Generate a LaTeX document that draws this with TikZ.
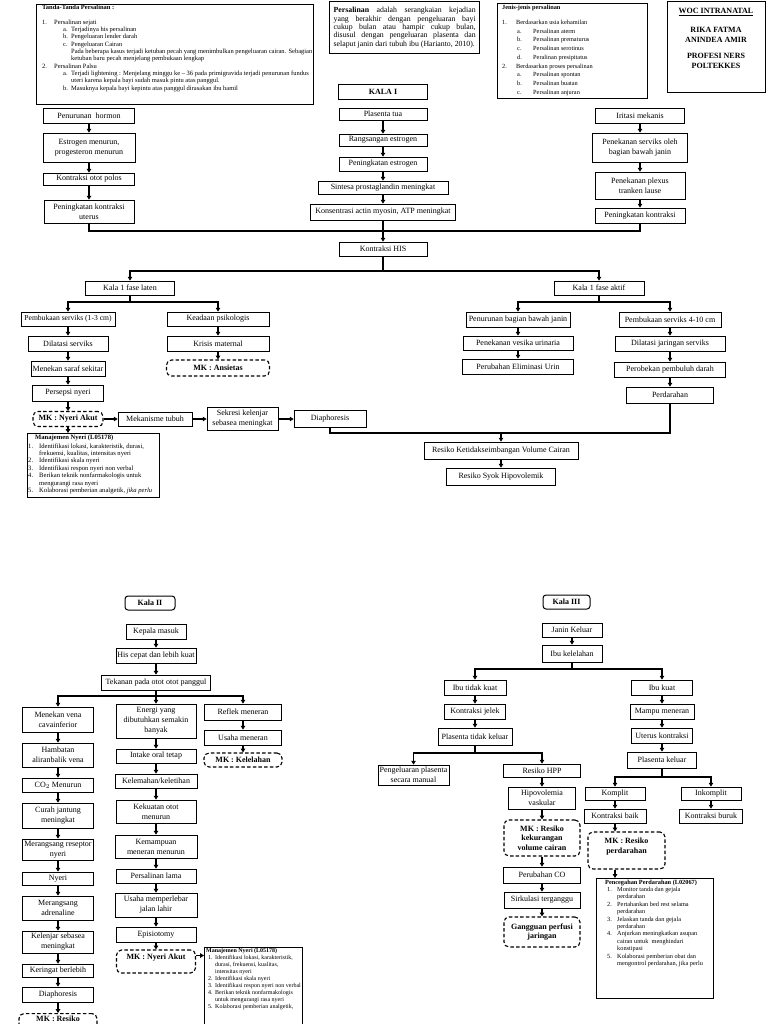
\documentclass[tikz,border=0pt]{standalone}
\usepackage{fontspec}
\setmainfont{Liberation Serif}
\usetikzlibrary{arrows.meta}

\newcommand{\itm}[3]{\hspace*{#1}\makebox[#2][l]{#3}}

\begin{document}
\begin{tikzpicture}[x=1pt, y=-1pt, >={Triangle[length=3.8pt,width=4.4pt]},
  sz/.style 2 args={minimum width=#1, minimum height=#2},
  box/.style={draw, line width=0.7pt, align=center, inner sep=0.3pt, font=\fontsize{8}{10}\selectfont},
  bbox/.style={box, font=\fontsize{8}{9.6}\selectfont\bfseries},
  kala/.style={bbox, rounded corners=3pt, line width=1pt},
  mk/.style={bbox, line width=1.1pt, dash pattern=on 3.5pt off 2.2pt, rounded corners=5pt},
  frame/.style={draw, line width=0.8pt, anchor=north west, inner sep=0pt},
  note/.style={anchor=north west, align=left, inner sep=0pt},
  arr/.style={->, line width=1.1pt},
  ln/.style={line width=1.1pt}]
\useasboundingbox (0,0) rectangle (768,1024);

% header boxes
\node[frame, sz={277}{100}] (tanda) at (36,4) {};
\node[note, font=\fontsize{6.5}{7.3}\selectfont] (tandatx) at (42,5) {\textbf{Tanda-Tanda Persalinan :}\\[7.3pt]
\itm{0pt}{12pt}{1.}Persalinan sejati\\
\itm{21pt}{8pt}{a.}Terjadinya his persalinan\\
\itm{21pt}{8pt}{b.}Pengeluaran lender darah\\
\itm{21pt}{8pt}{c.}Pengeluaran Cairan\\
\hspace*{29pt}Pada beberapa kasus terjadi ketuban pecah yang menimbulkan pengeluaran cairan. Sebagian\\
\hspace*{29pt}ketuban baru pecah menjelang pembukaan lengkap\\
\itm{0pt}{12pt}{2.}Persalinan Palsu\\
\itm{21pt}{8pt}{a.}Terjadi lightening : Menjelang minggu ke -- 36 pada primigravida terjadi penurunan fundus\\
\hspace*{29pt}uteri karena kepala bayi sudah masuk pintu atas panggul.\\
\itm{21pt}{8pt}{b.}Masuknya kepala bayi kepintu atas panggul dirasakan ibu hamil};
\node[draw, line width=1.3pt, anchor=north west, text width=142pt, sz={150}{52}, inner xsep=4pt, inner ysep=2pt, align=justify, font=\fontsize{7.8}{8.3}\selectfont] (psl) at (329,1)
  {\textbf{Persalinan} adalah serangkaian kejadian\linebreak yang berakhir dengan pengeluaran bayi\linebreak cukup bulan atau hampir cukup bulan,\linebreak disusul dengan pengeluaran plasenta dan\linebreak selaput janin dari tubuh ibu (Harianto, 2010).};
\node[frame, sz={150}{95}] (jenis) at (497,3) {};
\node[note, font=\fontsize{6.3}{8.75}\selectfont] (jenistx) at (502,5) {\textbf{Jenis-jenis persalinan}\\[6pt]
\itm{0pt}{14pt}{1.}Berdasarkan usia kehamilan\\
\itm{15pt}{16pt}{a.}Persalinan aterm\\
\itm{15pt}{16pt}{b.}Persalinan prematurus\\
\itm{15pt}{16pt}{c.}Persalinan serotinus\\
\itm{15pt}{16pt}{d.}Peralinan presipitatus\\
\itm{0pt}{14pt}{2.}Berdasarkan proses persalinan\\
\itm{15pt}{16pt}{a.}Persalinan spontan\\
\itm{15pt}{16pt}{b.}Persalinan buatan\\
\itm{15pt}{16pt}{c.}Persalinan anjuran};
\node[frame, line width=1pt, sz={98}{91}] (woc) at (667,1) {};
\node[anchor=north, align=center, inner sep=0pt, font=\fontsize{8}{10}\selectfont\bfseries] (woctx) at (716,8)
  {\underline{WOC INTRANATAL}\\[9pt]RIKA FATMA\\ANINDEA AMIR\\[6pt]PROFESI NERS\\POLTEKKES};

% Kala I
\node[bbox, sz={89}{15}] (kala1) at (383,91.5) {KALA I};
\node[box, sz={88}{12}] (plt) at (383,114) {Plasenta tua};
\node[box, sz={88}{12}] (rgs) at (383,140) {Rangsangan estrogen};
\node[box, sz={88}{14}] (pes) at (383,164) {Peningkatan estrogen};
\node[box, sz={130}{13}] (spm) at (383,187.5) {Sintesa prostaglandin meningkat};
\node[box, sz={145}{16}] (kam) at (383,212) {Konsentrasi actin myosin, ATP meningkat};
\node[box, sz={88}{14}] (khis) at (383,249) {Kontraksi HIS};
\node[box, sz={91}{15}] (phm) at (89,115.5) {Penurunan\ \ hormon};
\node[box, sz={92}{29}] (emp) at (89,147.5) {Estrogen menurun,\\progesteron menurun};
\node[box, sz={91}{12}] (kop) at (89,179) {Kontraksi otot polos};
\node[box, sz={90}{23}] (pku) at (89,211.5) {Peningkatan kontraksi\\uterus};
\node[box, sz={89}{15}] (imk) at (640,115.5) {Iritasi mekanis};
\node[box, sz={95}{29}] (psb) at (640,147.5) {Penekanan serviks oleh\\bagian bawah janin};
\node[box, sz={90}{27}] (ppt) at (640,185.5) {Penekanan plexus\\tranken lause};
\node[box, sz={90}{15}] (pkr) at (640,215.5) {Peningkatan kontraksi};
\coordinate (j1) at (383,231);
\draw[ln] (pku.south) |- (j1) -| (pkr.south);
\draw[arr] (kam) -- (khis);

\node[box, sz={89}{14}] (fl) at (130,288) {Kala 1 fase laten};
\node[box, sz={90}{14}] (fa) at (599,288) {Kala 1 fase aktif};
\coordinate (j2) at (383,271);
\draw[ln] (khis) -- (j2);
\draw[arr] (j2) -| (fl);
\draw[arr] (j2) -| (fa);

% fase laten
\node[box, sz={94}{14}, font=\fontsize{7.6}{9}\selectfont] (pb13) at (68,319) {Pembukaan serviks (1-3 cm)};
\node[box, sz={102}{14}] (kps) at (218,319) {Keadaan psikologis};
\coordinate (j3) at (130,302);
\draw[ln] (fl) -- (j3);
\draw[arr] (j3) -| (pb13);
\draw[arr] (j3) -| (kps);
\node[box, sz={80}{15}] (dls) at (68,343.5) {Dilatasi serviks};
\node[box, sz={74}{15}] (mss) at (68,368.5) {Menekan saraf sekitar};
\node[box, sz={71}{16}] (psn) at (68,393) {Persepsi nyeri};
\node[mk, sz={70}{15}] (mkn1) at (68,419) {MK : Nyeri Akut};
\node[box, sz={102}{15}] (krm) at (218,343.5) {Krisis maternal};
\node[mk, sz={103}{16}] (mka) at (218,368) {MK : Ansietas};
\node[box, sz={74}{14}] (mkt) at (155,419) {Mekanisme tubuh};
\node[box, sz={71}{23}] (skm) at (242.5,419) {Sekresi kelenjar\\sebasea meningkat};
\node[box, sz={72}{17}] (dph1) at (330,419) {Diaphoresis};
\node[frame, sz={132}{64}] (mn1) at (27,433) {};
\node[note, font=\fontsize{6.6}{7.4}\selectfont] (mn1tx) at (28,434.5) {\hspace*{7pt}\textbf{Manajemen Nyeri (L05178)}\\[1.5pt]
\itm{0pt}{11pt}{1.}Identifikasi lokasi, karakteristik, durasi,\\
\hspace*{11pt}frekuensi, kualitas, intensitas nyeri\\
\itm{0pt}{11pt}{2.}Identifikasi skala nyeri\\
\itm{0pt}{11pt}{3.}Identifikasi respon nyeri non verbal\\
\itm{0pt}{11pt}{4.}Berikan teknik nonfarmakologis untuk\\
\hspace*{11pt}mengurangi rasa nyeri\\
\itm{0pt}{11pt}{5.}Kolaborasi pemberian analgetik, \textit{jika perlu}};
\draw[arr] (mkn1) -- (mkn1 |- mn1.north);

% fase aktif
\coordinate (j4) at (599,302);
\draw[ln] (fa) -- (j4);
\node[box, sz={104}{15}] (pbj) at (518,319.5) {Penurunan bagian bawah janin};
\node[box, sz={102}{15}] (pb410) at (670,319.5) {Pembukaan serviks 4-10 cm};
\draw[arr] (j4) -| (pbj);
\draw[arr] (j4) -| (pb410);
\node[box, sz={110}{14}] (pvu) at (518,343) {Penekanan vesika urinaria};
\node[box, sz={111}{15}] (peu) at (518,366.5) {Perubahan Eliminasi Urin};
\node[box, sz={110}{15}] (djs) at (670,343.5) {Dilatasi jaringan serviks};
\node[box, sz={111}{15}] (ppd) at (670,369.5) {Perobekan pembuluh darah};
\node[box, sz={87}{16}] (prd) at (670,395) {Perdarahan};
\node[box, sz={154}{17}] (rkv) at (501,450.5) {Resiko Ketidakseimbangan Volume Cairan};
\node[box, sz={109}{17}] (rsh) at (501,476.5) {Resiko Syok Hipovolemik};
\coordinate (j5) at (501,433);
\draw[ln] (dph1) |- (j5) -| (prd);
\draw[arr] (j5) -- (rkv);
\draw[arr] (rkv) -- (rsh);
\foreach \a/\b in {plt/rgs, rgs/pes, pes/spm, spm/kam, phm/emp, emp/kop, kop/pku, imk/psb, psb/ppt, ppt/pkr,
  pb13/dls, dls/mss, mss/psn, psn/mkn1, kps/krm, krm/mka, mkn1/mkt, mkt/skm, skm/dph1,
  pbj/pvu, pvu/peu, pb410/djs, djs/ppd, ppd/prd}
  \draw[arr] (\a) -- (\b);

% Kala II
\node[kala, sz={50}{14}] (kala2) at (150,603) {Kala II};
\node[box, sz={60}{15}] (kpm) at (156,631.5) {Kepala masuk};
\node[box, sz={80}{15}] (hcl) at (156,655.5) {His cepat dan lebih kuat};
\node[box, sz={109}{15}] (tpo) at (156,682.5) {Tekanan pada otot otot panggul};
\coordinate (j6) at (156,696);
\draw[ln] (tpo) -- (j6);
\node[box, sz={71}{25}] (mvc) at (58,719.5) {Menekan vena\\cavainferior};
\node[box, sz={71}{24}] (hab) at (58,755) {Hambatan\\aliranbalik vena};
\node[box, sz={71}{14}] (co2) at (58,785) {CO$_2$ Menurun};
\node[box, sz={71}{25}] (cjm) at (58,815.5) {Curah jantung\\meningkat};
\node[box, sz={71}{21}] (mrn) at (58,849.5) {Merangsang reseptor\\nyeri};
\node[box, sz={71}{13}] (nyr) at (58,878.5) {Nyeri};
\node[box, sz={71}{24}] (mad) at (58,908) {Merangsang\\adrenaline};
\node[box, sz={71}{22}] (ksm) at (58,942) {Kelenjar sebasea\\meningkat};
\node[box, sz={71}{13}] (kbl) at (58,970.5) {Keringat berlebih};
\node[box, sz={71}{15}] (dph2) at (58,994.5) {Diaphoresis};
\node[mk, sz={78}{46}, anchor=north, inner ysep=2.5pt] (mkr) at (58,1013) {MK : Resiko\\[30pt]\mbox{}};
\node[box, sz={80}{34}] (eyd) at (156,721) {Energi yang\\dibutuhkan semakin\\banyak};
\node[box, sz={80}{14}] (iot) at (156,756) {Intake oral tetap};
\node[box, sz={82}{14}] (kkt) at (156,781) {Kelemahan/keletihan};
\node[box, sz={80}{23}] (kom) at (156,811.5) {Kekuatan otot\\menurun};
\node[box, sz={82}{23}] (kmm) at (156,846.5) {Kemampuan\\meneran menurun};
\node[box, sz={80}{14}] (plm) at (156,876) {Persalinan lama};
\node[box, sz={82}{24}] (ump) at (156,905) {Usaha memperlebar\\jalan lahir};
\node[box, sz={80}{15}] (epi) at (156,934.5) {Episiotomy};
\node[mk, sz={79}{23}] (mkn2) at (156,961.5) {MK : Nyeri Akut\\\mbox{}};
\node[box, sz={77}{16}] (rfm) at (243,712) {Reflek meneran};
\node[box, sz={77}{15}] (usm) at (243,737.5) {Usaha meneran};
\node[mk, sz={78}{14}] (mkk) at (243,760) {MK : Kelelahan};
\node[frame, sz={98}{93}] (mn2) at (204,947) {};
\node[note, font=\fontsize{6}{6.9}\selectfont] (mn2tx) at (206,948.5) {\textbf{Manajemen Nyeri (L05178)}\\
\itm{2pt}{7pt}{1.}Identifikasi lokasi, karakteristik,\\
\hspace*{9pt}durasi, frekuensi, kualitas,\\
\hspace*{9pt}intensitas nyeri\\
\itm{2pt}{7pt}{2.}Identifikasi skala nyeri\\
\itm{2pt}{7pt}{3.}Identifikasi respon nyeri non verbal\\
\itm{2pt}{7pt}{4.}Berikan teknik nonfarmakologis\\
\hspace*{9pt}untuk mengurangi rasa nyeri\\
\itm{2pt}{7pt}{5.}Kolaborasi pemberian analgetik,};
\draw[arr] ([yshift=6pt]mkn2.east) -- ([yshift=6pt]mkn2.east -| mn2.west);
\draw[arr] (j6) -| (mvc);
\draw[arr] (j6) -- (eyd);
\draw[arr] (j6) -| (rfm);
\foreach \a/\b in {kpm/hcl, hcl/tpo, mvc/hab, hab/co2, co2/cjm, cjm/mrn, mrn/nyr, nyr/mad, mad/ksm, ksm/kbl, kbl/dph2, dph2/mkr,
  eyd/iot, iot/kkt, kkt/kom, kom/kmm, kmm/plm, plm/ump, ump/epi, epi/mkn2, rfm/usm, usm/mkk}
  \draw[arr] (\a) -- (\b);

% Kala III
\node[kala, sz={47}{14}] (kala3) at (566.5,602) {Kala III};
\node[box, sz={60}{14}] (jkl) at (572,630) {Janin Keluar};
\node[box, sz={60}{17}] (ikl) at (572,653.5) {Ibu kelelahan};
\coordinate (j7) at (572,669);
\draw[ln] (ikl) -- (j7);
\node[box, sz={62}{15}] (itk) at (475,687.5) {Ibu tidak kuat};
\node[box, sz={61}{15}] (kjl) at (475,711.5) {Kontraksi jelek};
\node[box, sz={74}{17}] (ptk) at (475,736.5) {Plasenta tidak keluar};
\node[box, sz={61}{15}] (ikt) at (662,687.5) {Ibu kuat};
\node[box, sz={64}{15}] (mpm) at (662,711.5) {Mampu meneran};
\node[box, sz={61}{15}] (utk) at (662,735.5) {Uterus kontraksi};
\node[box, sz={69}{16}] (pkl) at (662,760) {Plasenta keluar};
\draw[arr] (j7) -| (itk);
\draw[arr] (j7) -| (ikt);
\coordinate (j8) at (475,753);
\draw[ln] (ptk) -- (j8);
\node[box, sz={71}{20}] (pps) at (413.5,775) {Pengeluaran plasenta\\secara manual};
\node[box, sz={77}{13}] (rhpp) at (542,770.5) {Resiko HPP};
\node[box, sz={67}{22}] (hipv) at (542,798) {Hipovolemia\\vaskular};
\node[mk, sz={76}{36}] (mkrk) at (542,838) {MK : Resiko\\kekurangan\\volume cairan};
\node[box, sz={77}{16}] (pco) at (542,875) {Perubahan CO};
\node[box, sz={76}{16}] (skt) at (542,900) {Sirkulasi terganggu};
\node[mk, sz={76}{30}] (gpj) at (542,932) {Gangguan perfusi\\jaringan};
\draw[arr] (j8) -| (pps);
\draw[arr] (j8) -| (rhpp);
\coordinate (j9) at (662,777);
\draw[ln] (pkl) -- (j9);
\node[box, sz={60}{13}] (kmp) at (615,793.5) {Komplit};
\node[box, sz={60}{13}] (ikp) at (711,793.5) {Inkomplit};
\node[box, sz={62}{14}] (kbk) at (615,816) {Kontraksi baik};
\node[box, sz={63}{14}] (kbr) at (711,816) {Kontraksi buruk};
\node[mk, sz={77}{37}] (mkrp) at (626.5,850.5) {MK : Resiko\\perdarahan\\\mbox{}};
\node[frame, sz={117}{120}] (pcp) at (596,878) {};
\node[note, font=\fontsize{6.3}{7.4}\selectfont] (pcptx) at (605,879.5) {\textbf{Pencegahan Perdarahan (L02067)}\\
\itm{2pt}{10pt}{1.}Monitor tanda dan gejala\\
\hspace*{12pt}perdarahan\\
\itm{2pt}{10pt}{2.}Pertahankan bed rest selama\\
\hspace*{12pt}perdarahan\\
\itm{2pt}{10pt}{3.}Jelaskan tanda dan gejala\\
\hspace*{12pt}perdarahan\\
\itm{2pt}{10pt}{4.}Anjurkan meningkatkan asupan\\
\hspace*{12pt}cairan untuk\ \ menghindari\\
\hspace*{12pt}konstipasi\\
\itm{2pt}{10pt}{5.}Kolaborasi pemberian obat dan\\
\hspace*{12pt}mengontrol perdarahan, jika perlu};
\draw[arr] (j9) -| (kmp);
\draw[arr] (j9) -| (ikp);
\draw[arr] (kbk) -- (kbk |- mkrp.north);
\draw[arr] (kbk |- mkrp.south) -- (kbk |- pcp.north);
\foreach \a/\b in {jkl/ikl, itk/kjl, kjl/ptk, ikt/mpm, mpm/utk, utk/pkl, rhpp/hipv, hipv/mkrk, mkrk/pco, pco/skt, skt/gpj,
  kmp/kbk, ikp/kbr}
  \draw[arr] (\a) -- (\b);
\end{tikzpicture}
\end{document}
